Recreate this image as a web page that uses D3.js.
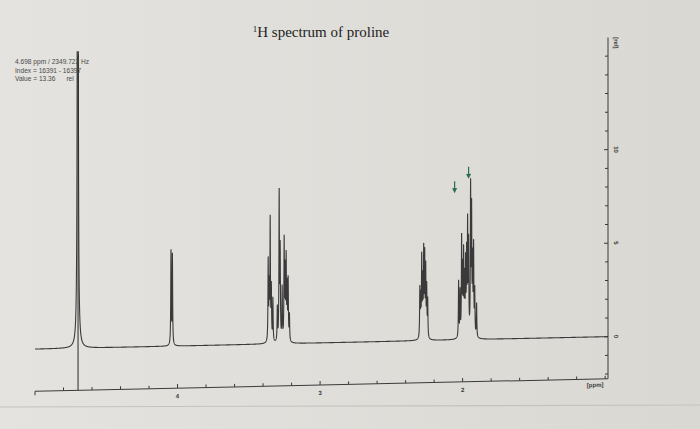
<!DOCTYPE html>
<html>
<head>
<meta charset="utf-8">
<script src="https://cdn.jsdelivr.net/npm/d3@7"></script>
<style>
  html, body { margin: 0; padding: 0; background: #dedcd8; }
  svg { display: block; }
  .readout { white-space: pre; }
</style>
</head>
<body>
<div id="chart"></div>
<script>
// NMR lines: position (ppm), height (rel), half width (ppm)
const linePpm = [4.700, 4.046, 4.036,
  3.364, 3.357, 3.350, 3.342, 3.331, 3.300, 3.287, 3.280, 3.266, 3.252, 3.245, 3.238, 3.231, 3.224, 3.215,
  2.300, 2.294, 2.287, 2.280, 2.273, 2.266, 2.259, 2.252, 2.245,
  2.028, 2.018, 2.007, 2.000, 1.993, 1.986, 1.979, 1.972, 1.965, 1.958, 1.944, 1.937, 1.930, 1.923, 1.915, 1.902];
const lineHeight = [80, 5.0, 4.8,
  4.3, 2.8, 6.4, 2.8, 2.3, 1.8, 7.9, 4.8, 2.8, 5.3, 3.6, 4.3, 2.8, 3.2, 1.4,
  2.6, 2.0, 4.2, 2.9, 4.5, 4.2, 3.6, 2.6, 2.0,
  3.0, 2.4, 5.2, 3.4, 4.3, 2.9, 3.8, 4.2, 5.8, 4.8, 7.8, 6.5, 3.8, 4.7, 2.4, 1.8];
const lineWidth = linePpm.map((p, i) => i === 0 ? 0.0021 : 0.002);

const ppmTicks = [4, 3, 2];
const relTicks = [0, 5, 10];
const arrowPpm = [2.056, 1.958];
const arrowRel = [7.85, 8.6];
const cursorPpm = 4.698;
const cursorInfo = ['4.698 ppm / 2349.722 Hz', 'Index = 16391 - 16397', 'Value = 13.36      rel'];

const width = 700, height = 429;
const svg = d3.select('#chart').append('svg').attr('width', width).attr('height', height);

// paper background
const grad = svg.append('defs').append('linearGradient').attr('id', 'paper');
grad.append('stop').attr('offset', '0%').attr('stop-color', '#e4e3df');
grad.append('stop').attr('offset', '100%').attr('stop-color', '#d9d8d3');
svg.append('rect').attr('width', width).attr('height', height).attr('fill', 'url(#paper)');
svg.append('line').attr('x1', 0).attr('x2', width).attr('y1', 407).attr('y2', 405)
  .attr('stroke', '#c4c3be').attr('stroke-width', 1.2);

const x = d3.scaleLinear().domain([5.0, 0.98]).range([35, 608]);
const y = d3.scaleLinear().domain([-2.25, 16]).range([385, 43.7]);

// the printout is photographed slightly tilted: shear the plot a little
const plot = svg.append('g').attr('transform', 'translate(320,0) skewY(-1.25) translate(-320,0)');

plot.append('clipPath').attr('id', 'clip')
  .append('rect').attr('x', 30).attr('y', 46).attr('width', 578).attr('height', 340);

// spectrum = sum of lorentzian lines
const grid = d3.range(5.0, 0.98, -0.0004);
const spectrum = grid.map(p => {
  let v = 0;
  linePpm.forEach((c, i) => {
    const d = (p - c) / lineWidth[i];
    v += lineHeight[i] / (1 + d * d);
  });
  return [p, v];
});

const ink = '#3a3a3a';
const font = 'Liberation Sans, Arial, sans-serif';

// x axis
const xAxis = plot.append('g').attr('transform', `translate(0,${y.range()[0]})`);
xAxis.append('line').attr('x1', x(5.0)).attr('x2', x(0.98)).attr('stroke', ink);
xAxis.selectAll('.tick').data(d3.range(50, 9, -2).map(v => v / 10)).join('line')
  .attr('x1', d => x(d)).attr('x2', d => x(d))
  .attr('y1', d => d === 5 ? 4 : 0).attr('y2', d => d === 5 ? 0 : (ppmTicks.includes(d) ? -4 : -3))
  .attr('stroke', ink);
xAxis.selectAll('.lab').data(ppmTicks).join('text')
  .attr('x', d => x(d)).attr('y', 10)
  .attr('text-anchor', 'middle')
  .attr('font-family', font)
  .attr('font-size', 6).attr('font-weight', 'bold').attr('fill', '#3a3a3a')
  .text(d => d);
xAxis.append('text').attr('x', x(1.07)).attr('y', 8).attr('text-anchor', 'middle')
  .attr('font-family', font)
  .attr('font-size', 6).attr('font-weight', 'bold').attr('fill', '#3a3a3a').text('[ppm]');

// y axis on the right
const yAxis = plot.append('g').attr('transform', `translate(${x(0.98)},0)`);
yAxis.append('line').attr('y1', y(16)).attr('y2', y(-2.25)).attr('stroke', ink);
yAxis.selectAll('.tick').data(d3.range(-2, 16)).join('line')
  .attr('y1', d => y(d)).attr('y2', d => y(d))
  .attr('x1', 0).attr('x2', d => relTicks.includes(d) ? -4 : -3)
  .attr('stroke', ink);
yAxis.selectAll('.lab').data(relTicks).join('text')
  .attr('transform', d => `translate(8,${y(d)}) rotate(90)`)
  .attr('text-anchor', 'middle').attr('dy', '0.35em')
  .attr('font-family', font)
  .attr('font-size', 6).attr('font-weight', 'bold').attr('fill', '#3a3a3a')
  .text(d => d);
yAxis.append('text').attr('transform', `translate(8,${y(16)}) rotate(90)`)
  .attr('text-anchor', 'start').attr('dy', '0.35em')
  .attr('font-family', font)
  .attr('font-size', 6).attr('font-weight', 'bold').attr('fill', '#3a3a3a').text('[rel]');

// spectrum trace
const line = d3.line().x(d => x(d[0])).y(d => y(d[1]));
plot.append('path').datum(spectrum)
  .attr('clip-path', 'url(#clip)')
  .attr('d', line).attr('fill', 'none')
  .attr('stroke', ink).attr('stroke-width', 1.1);

// cursor
plot.append('line').attr('x1', x(cursorPpm)).attr('x2', x(cursorPpm))
  .attr('y1', 50).attr('y2', y.range()[0])
  .attr('stroke', '#2a2a2a').attr('stroke-width', 1);

// green arrows
const arrows = plot.append('g').attr('stroke', '#2b6f4c').attr('fill', '#2b6f4c');
arrowPpm.forEach((p, i) => {
  const ax = x(p), ay = y(arrowRel[i]);
  arrows.append('line').attr('x1', ax).attr('x2', ax).attr('y1', ay - 12).attr('y2', ay - 3)
    .attr('stroke-width', 1.2);
  arrows.append('path').attr('d', `M${ax - 2.5},${ay - 5} L${ax + 2.5},${ay - 5} L${ax},${ay} Z`)
    .attr('stroke', 'none');
});

// cursor readout
svg.append('g').selectAll('text').data(cursorInfo).join('text')
  .attr('class', 'readout')
  .attr('x', 15).attr('y', (d, i) => 64 + i * 8.5)
  .attr('font-family', font)
  .attr('font-size', 6.6).attr('fill', '#4a4a4a')
  .text(d => d);

// title
const title = svg.append('text').attr('x', 321).attr('y', 37).attr('text-anchor', 'middle')
  .attr('font-family', 'Liberation Serif, Times New Roman, serif')
  .attr('font-size', 15).attr('fill', '#222');
title.append('tspan').attr('font-size', 9).attr('dy', -5).text('1');
title.append('tspan').attr('dy', 5).text('H spectrum of proline');
</script>
</body>
</html>
